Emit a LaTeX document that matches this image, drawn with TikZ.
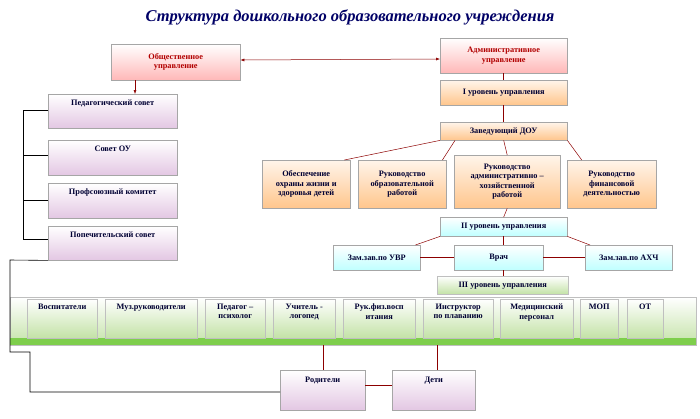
\documentclass[tikz,border=0pt]{standalone}
\usepackage{fontspec}
\setmainfont{Liberation Serif}
\usetikzlibrary{arrows.meta}
\begin{document}
\begin{tikzpicture}[x=1pt,y=-1pt,
  bx/.style={draw=gray!70,line width=0.4pt,inner sep=1pt,align=center},
  tx/.style={inner sep=1pt,align=center,font=\bfseries\fontsize{8.3}{9.3}\selectfont,text=black!80!blue},
  rtx/.style={tx,text=red!70!black},
  pur/.style={bx,top color=white,bottom color=violet!22},
  org/.style={bx,top color=orange!8,bottom color=orange!45},
  red/.style={bx,top color=white,bottom color=red!28},
  blu/.style={bx,top color=white,bottom color=cyan!25},
  grn/.style={bx,top color=white,bottom color=green!35!olive!35,draw=gray!50},
  rl/.style={draw=red!55!black,line width=0.5pt},
  bl/.style={draw=black,line width=0.6pt}]
\useasboundingbox (0,0) rectangle (700,418);
\newcommand{\bbox}[6]{\node[#1,minimum width=#4-#2,minimum height=#5-#3,anchor=north west] (#6) at (#2,#3) {};}
\node[font=\bfseries\itshape\fontsize{16.5}{18}\selectfont,text=blue!40!black] (title) at (350,17) {Структура дошкольного образовательного учреждения};
% left column
\bbox{red}{111}{44}{240}{80}{obsh}\node[rtx] at (obsh) {Общественное\\управление};
\bbox{red}{440}{38}{567}{73}{adm}\node[rtx] at (adm) {Административное\\управление};
\foreach \n/\t/\ya/\yb in {ped/Педагогический совет/94/128, sov/Совет ОУ/140/175, prof/Профсоюзный комитет/183/218, pop/Попечительский совет/226/260}{
  \bbox{pur}{48}{\ya}{177}{\yb}{\n}
  \node[tx,anchor=north] at ([yshift=-5]\n.north) {\t};
}
\draw[rl,{Latex[length=4pt]}-{Latex[length=4pt]}] (obsh.east|-0,60) -- (adm.west|-0,59);
\draw[rl,-{Latex[length=4pt]}] (obsh.south-|135,0) -- (ped.north-|135,0);
\draw[bl] (ped.west|-0,110) -- (23,110) -- (23,239) -- (pop.west|-0,239);
\draw[bl] (23,155) -- (sov.west|-0,155);
\draw[bl] (23,200) -- (prof.west|-0,200);
% admin
\bbox{org}{440}{80}{567}{105}{l1}\node[tx] at (l1) {I уровень управления};
\bbox{org}{440}{122}{567}{140}{zav}\node[tx] at (zav) {Заведующий ДОУ};
\bbox{org}{262}{160}{350}{208}{o1}\node[tx] at (o1) {Обеспечение\\охраны жизни и\\здоровья детей};
\bbox{org}{358}{160}{446}{208}{o2}\node[tx] at (o2) {Руководство\\образовательной\\работой};
\bbox{org}{454}{155}{560}{208}{o3}\node[tx] at (o3) {Руководство\\административно –\\хозяйственной\\работой};
\bbox{org}{567}{160}{656}{208}{o4}\node[tx] at (o4) {Руководство\\финансовой\\деятельностью};
\draw[rl] (adm.south) -- (l1.north);
\draw[rl] (l1.south) -- (zav.north);
\draw[rl] (zav.south west) -- ([xshift=-6]o1.north east);
\draw[rl] ([xshift=15]zav.south west) -- ([xshift=-4]o2.north east);
\draw[rl] (zav.south) -- (o3.north);
\draw[rl] (zav.south east) -- ([xshift=-30]o4.north);
\bbox{blu}{440}{217}{567}{236}{l2}\node[tx] at (l2) {II уровень управления};
\bbox{blu}{333}{245}{420}{270}{uvr}\node[tx] at (uvr) {Зам.зав.по УВР};
\bbox{blu}{454}{245}{543}{270}{vr}\node[tx] at (vr) {Врач};
\bbox{blu}{585}{245}{672}{270}{ahch}\node[tx] at (ahch) {Зам.зав.по АХЧ};
\draw[rl] (o3.south) -- (l2.north);
\draw[rl] (l2.south) -- (l2.south|-vr.north);
\draw[rl] (l2.south west) -- ([xshift=-5]uvr.north east);
\draw[rl] (l2.south east) -- ([xshift=5]ahch.north west);
\draw[rl] (uvr.east) -- (vr.west);
\draw[rl] (vr.east) -- (ahch.west);
\bbox{grn}{437}{276}{568}{294}{l3}\node[tx] at (l3) {III уровень управления};
\draw[rl] (vr.south-|503,0) -- (l3.north-|503,0);
% green bar
\bbox{grn}{10}{297}{696}{345}{bar}
\fill[green!45!olive!70] (10,338) rectangle (696,345);
\foreach \n/\t/\xa/\xb in {g1/Воспитатели/27/97, g2/Муз.руководители/105/197, g3/Педагог –\\психолог/205/265, g4/Учитель -\\логопед/273/335, g5/Рук.физ.восп\\итания/343/415, g6/Инструктор\\по плаванию/423/493, g7/Медицинский\\персонал/500/573, g8/МОП/580/618, g9/ОТ/627/663}{
  \bbox{grn}{\xa}{299}{\xb}{338}{\n}
  \node[tx,anchor=north] at ([yshift=-4]\n.north) {\t};
}
\bbox{pur}{280}{370}{365}{410}{rod}\node[tx,anchor=north] at ([yshift=-6]rod.north) {Родители};
\bbox{pur}{392}{370}{475}{410}{det}\node[tx,anchor=north] at ([yshift=-6]det.north) {Дети};
\draw[rl] (bar.south-|323,0) -- (rod.north-|323,0);
\draw[rl] (bar.south-|437,0) -- (det.north-|437,0);
\draw[rl] (rod.east|-0,385) -- (det.west|-0,385);
\draw[bl] (pop.south west) -- (10,260) -- (10,352) -- (30,352) -- (30,392) -- (rod.west|-0,392);
\end{tikzpicture}
\end{document}
